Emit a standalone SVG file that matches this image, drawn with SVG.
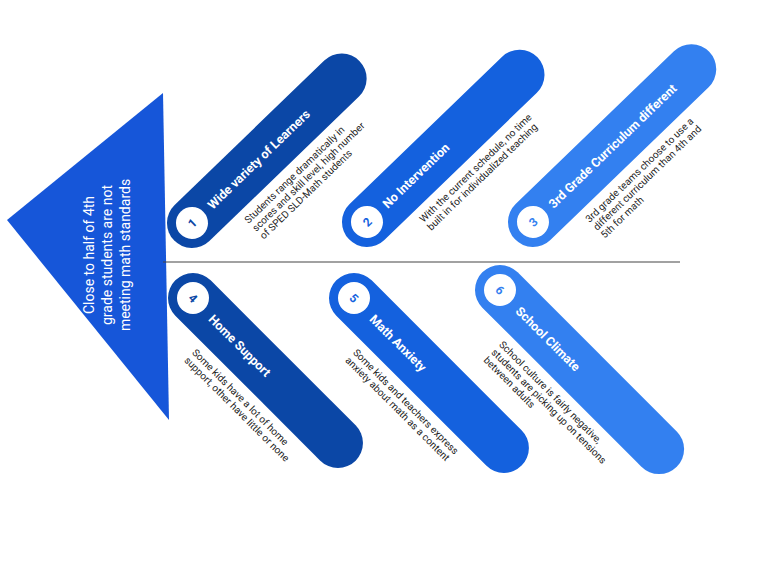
<svg xmlns="http://www.w3.org/2000/svg" width="768" height="576" viewBox="0 0 768 576">
<style>
.t{font-family:Roboto,"Liberation Sans",sans-serif;font-size:12.5px;font-weight:bold;fill:#fff}
.d{font-family:Roboto,"Liberation Sans",sans-serif;font-size:10px;fill:#222}
.n{font-family:Roboto,"Liberation Sans",sans-serif;font-size:12px;font-weight:bold;text-anchor:middle}
.h{font-family:Roboto,"Liberation Sans",sans-serif;font-size:14px;fill:#fff;text-anchor:middle}
</style>
<rect width="768" height="576" fill="#fff"/>
<g id="head">
<polygon points="163,93 7,220 169,420" fill="#1656d9"/>
<g transform="translate(108,255) rotate(-90)">
<text class="h" y="-14">Close to half of 4th</text>
<text class="h" y="4">grade students are not</text>
<text class="h" y="22">meeting math standards</text>
</g>
</g>
<g id="connectors"><line x1="163" y1="262" x2="680" y2="262" stroke="#444" stroke-width="1.2"/></g>
<g id="n1" transform="translate(192,223) rotate(-44)">
<rect x="-25" y="-25" width="258" height="50" rx="25" fill="#0b47a6"/>
<circle r="16" fill="#fff"/><text class="n" y="4.5" fill="#0b47a6">1</text>
<text class="t" x="24" y="5">Wide variety of Learners</text>
<text class="d" x="40" y="40">Students range dramatically in</text>
<text class="d" x="40" y="51">scores and skill level, high number</text>
<text class="d" x="40" y="62">of SPED SLD-Math students</text>
</g>
<g id="n2" transform="translate(367,222) rotate(-44)">
<rect x="-25" y="-25" width="262" height="50" rx="25" fill="#1461de"/>
<circle r="16" fill="#fff"/><text class="n" y="4.5" fill="#1461de">2</text>
<text class="t" x="24" y="5">No Intervention</text>
<text class="d" x="40" y="40">With the current schedule, no time</text>
<text class="d" x="40" y="51">built in for individualized teaching</text>
</g>
<g id="n3" transform="translate(533,222) rotate(-44)">
<rect x="-25" y="-25" width="270" height="50" rx="25" fill="#3380f0"/>
<circle r="16" fill="#fff"/><text class="n" y="4.5" fill="#3380f0">3</text>
<text class="t" x="24" y="5">3rd Grade Curriculum different</text>
<text class="d" x="40" y="40">3rd grade teams choose to use a</text>
<text class="d" x="40" y="51">different curriculum than 4th and</text>
<text class="d" x="40" y="62">5th for math</text>
</g>
<g id="n4" transform="translate(193,298) rotate(45)">
<rect x="-25" y="-25" width="255" height="50" rx="25" fill="#0b47a6"/>
<circle r="16" fill="#fff"/><text class="n" y="4.5" fill="#0b47a6">4</text>
<text class="t" x="26" y="5">Home Support</text>
<text class="d" x="38" y="40">Some kids have a lot of home</text>
<text class="d" x="38" y="51">support, other have little or none</text>
</g>
<g id="n5" transform="translate(354,298) rotate(45)">
<rect x="-25" y="-25" width="262" height="50" rx="25" fill="#1461de"/>
<circle r="16" fill="#fff"/><text class="n" y="4.5" fill="#1461de">5</text>
<text class="t" x="26" y="5">Math Anxiety</text>
<text class="d" x="38" y="40">Some kids and teachers express</text>
<text class="d" x="38" y="51">anxiety about math as a content</text>
</g>
<g id="n6" transform="translate(500,290) rotate(45)">
<rect x="-25" y="-25" width="275" height="50" rx="25" fill="#3380f0"/>
<circle r="16" fill="#fff"/><text class="n" y="4.5" fill="#3380f0">6</text>
<text class="t" x="26" y="5">School Climate</text>
<text class="d" x="38" y="40">School culture is fairly negative,</text>
<text class="d" x="38" y="51">students are picking up on tensions</text>
<text class="d" x="38" y="62">between adults</text>
</g>
</svg>
